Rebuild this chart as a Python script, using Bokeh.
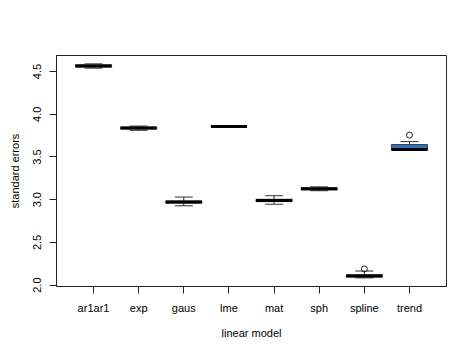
from bokeh.plotting import figure
from bokeh.models import FixedTicker, Range1d, ColumnDataSource
from bokeh.embed import file_html
from bokeh.resources import INLINE

models = ["ar1ar1", "exp", "gaus", "lme", "mat", "sph", "spline", "trend"]
lower_whisker = [4.540, 3.812, 2.929, 3.857, 2.947, 3.105, 2.085, 3.578]
q1 = [4.553, 3.827, 2.960, 3.857, 2.978, 3.115, 2.095, 3.583]
median = [4.565, 3.838, 2.972, 3.857, 2.990, 3.127, 2.108, 3.588]
q3 = [4.580, 3.850, 2.985, 3.857, 3.005, 3.138, 2.122, 3.646]
upper_whisker = [4.590, 3.862, 3.031, 3.857, 3.047, 3.150, 2.165, 3.680]
box_colors = ["#a6a6a6", "#a6a6a6", "#a6a6a6", "#a6a6a6", "#a6a6a6", "#a6a6a6", "#2f6fbf", "#2f6fbf"]
outlier_model = ["spline", "trend"]
outlier_value = [2.190, 3.756]

FONT = "Liberation Sans"
xs = list(range(1, len(models) + 1))
half = 0.4
cap = 0.2

src = ColumnDataSource(dict(
    x=xs, lw=lower_whisker, q1=q1, med=median, q3=q3, uw=upper_whisker, col=box_colors,
    x0=[x - half for x in xs], x1=[x + half for x in xs],
    c0=[x - cap for x in xs], c1=[x + cap for x in xs],
))

p = figure(width=474, height=355, output_backend="svg", toolbar_location=None,
           x_range=Range1d(0.18, 8.82), y_range=Range1d(1.984, 4.688),
           min_border_left=56, min_border_right=28, min_border_top=55, min_border_bottom=69)

p.background_fill_color = "white"
p.border_fill_color = "white"
p.outline_line_color = "#222222"
p.outline_line_width = 1
p.xgrid.visible = False
p.ygrid.visible = False

# whiskers (dashed)
p.segment(x0="x", y0="q3", x1="x", y1="uw", source=src, line_color="#222222", line_width=1, line_dash="4 3")
p.segment(x0="x", y0="lw", x1="x", y1="q1", source=src, line_color="#222222", line_width=1, line_dash="4 3")
# caps
p.segment(x0="c0", y0="uw", x1="c1", y1="uw", source=src, line_color="#333333", line_width=1)
p.segment(x0="c0", y0="lw", x1="c1", y1="lw", source=src, line_color="#333333", line_width=1)
# boxes
p.quad(left="x0", right="x1", bottom="q1", top="q3", source=src, fill_color="col",
       line_color="#444444", line_width=1)
# medians
p.segment(x0="x0", y0="med", x1="x1", y1="med", source=src, line_color="black", line_width=3)
# outliers
ox = [models.index(m) + 1 for m in outlier_model]
p.scatter(ox, outlier_value, marker="circle", size=6, fill_color=None, line_color="#222222", line_width=1)

# axes
p.xaxis.ticker = FixedTicker(ticks=xs)
p.xaxis.major_label_overrides = {x: m for x, m in zip(xs, models)}
p.xaxis.minor_tick_line_color = None
p.yaxis.minor_tick_line_color = None
p.yaxis.ticker = FixedTicker(ticks=[2.0, 2.5, 3.0, 3.5, 4.0, 4.5])
p.yaxis.major_label_overrides = {2.0: "2.0", 2.5: "2.5", 3.0: "3.0", 3.5: "3.5", 4.0: "4.0", 4.5: "4.5"}
p.yaxis.major_label_orientation = "vertical"

for ax in (p.xaxis[0], p.yaxis[0]):
    ax.axis_line_color = "#222222"
    ax.major_tick_line_color = "#222222"
    ax.major_tick_in = 0
    ax.major_tick_out = 7
    ax.major_label_text_font = FONT
    ax.major_label_text_font_size = "11px"
    ax.major_label_text_color = "black"
    ax.axis_label_text_font = FONT
    ax.axis_label_text_font_size = "11px"
    ax.axis_label_text_font_style = "normal"
    ax.axis_label_text_color = "black"

p.xaxis.axis_label = "linear model"
p.yaxis.axis_label = "standard errors"
p.xaxis.major_label_standoff = 8
p.xaxis.axis_label_standoff = 10
p.yaxis.major_label_standoff = 8
p.yaxis.axis_label_standoff = 10

open("out.html", "w").write(file_html(p, INLINE))
